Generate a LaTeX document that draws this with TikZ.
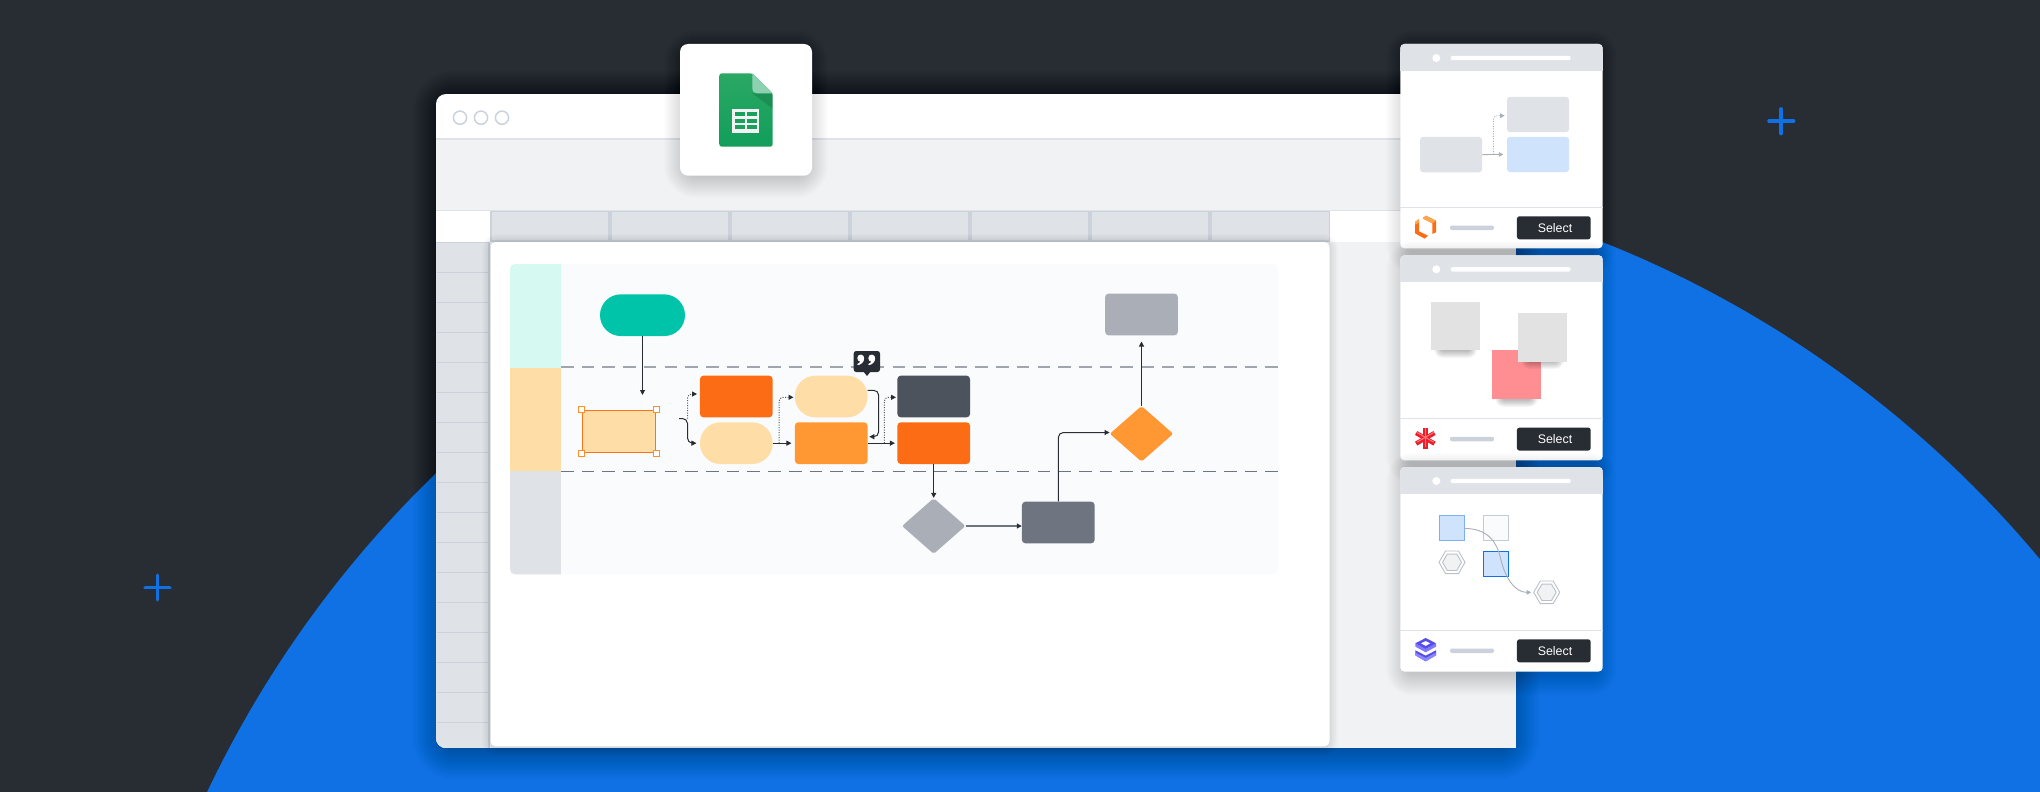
\documentclass[tikz,border=0pt]{standalone}
\usepackage{fontspec}
\setmainfont{Liberation Sans}
\usetikzlibrary{arrows.meta,shapes.geometric}
\definecolor{bgdark}{HTML}{282C33}
\definecolor{bgblue}{HTML}{1071E5}
\definecolor{panelgray}{HTML}{F1F2F4}
\definecolor{cellgray}{HTML}{DFE2E7}
\definecolor{gridline}{HTML}{CBD2DC}
\definecolor{lanebg}{HTML}{FAFBFD}
\definecolor{laneteal}{HTML}{D6F9F2}
\definecolor{peach}{HTML}{FFDDA6}
\definecolor{teal}{HTML}{00C4AA}
\definecolor{deeporange}{HTML}{FC6C14}
\definecolor{midorange}{HTML}{FF9833}
\definecolor{logolight}{HTML}{FFA64D}
\definecolor{slate}{HTML}{4C535D}
\definecolor{steel}{HTML}{6F7580}
\definecolor{ash}{HTML}{A9AEB7}
\definecolor{ink}{HTML}{282C33}
\definecolor{softblue}{HTML}{CFE3FD}
\definecolor{sheettop}{HTML}{2AA864}
\definecolor{sheetbot}{HTML}{129E5B}
\definecolor{sheetfold}{HTML}{8ED1B1}
\definecolor{sheetcell}{HTML}{18A05C}
\definecolor{stickygray}{HTML}{E2E2E2}
\definecolor{stickypink}{HTML}{FF8E93}
\definecolor{starred}{HTML}{EB1E2A}
\definecolor{starlight}{HTML}{FF787D}
\definecolor{violetlight}{HTML}{8078FF}
\definecolor{violetdeep}{HTML}{544CEB}
\definecolor{violetpale}{HTML}{8C87FF}
\newcommand{\softshadow}[7]{% x1 y1 x2 y2 radius steps opacity
  \foreach \i in {1,...,#6}{%
    \pgfmathsetmacro\rr{#5+\i}%
    \fill[black,opacity=#7,rounded corners=\rr pt] ({#1-\i},{#2-\i}) rectangle ({#3+\i},{#4+\i});
  }%
}
\newcommand{\cardframe}[3]{% prefix, top, height
  \softshadow{1408}{#2+8}{1595}{#2+#3+2}{4}{22}{0.008}
  \fill[white,rounded corners=4pt] (1400.3,#2) rectangle (1602.7,{#2+#3});
  \fill[cellgray,rounded corners=4pt] (1400.3,#2) rectangle (1602.7,{#2+15});
  \fill[cellgray] (1400.3,{#2+8}) rectangle (1602.7,{#2+26.7});
  \fill[white] (1436.3,{#2+14}) circle[radius=4pt];
  \fill[white,rounded corners=2pt] (1450.7,{#2+11.8}) rectangle (1570.7,{#2+16.2});
  \draw[cellgray,line width=0.8pt] (1400.3,{#2+163.3}) -- (1602.7,{#2+163.3});
  \fill[gridline,rounded corners=2pt] (1450,{#2+181.5}) rectangle (1494,{#2+186});
  \node[selectbtn] (#1btn) at (1553.8,{#2+183.8}) {\hspace*{2.4pt}Select};
}
\tikzset{
  conn/.style={draw=ink,line width=1pt,-{Triangle[length=5pt,width=5pt]}},
  dotconn/.style={draw=ink!80,line width=1pt,dash pattern=on 1pt off 1.5pt,-{Triangle[length=5pt,width=5pt,color=ink,fill=ink]},rounded corners=4pt},
  flowbox/.style={rectangle,rounded corners=3.5pt,minimum width=72.7pt,minimum height=41.7pt,inner sep=0pt,draw=none},
  flowpill/.style={rectangle,rounded corners=20.5pt,minimum width=72.7pt,minimum height=41.7pt,inner sep=0pt,draw=none},
  flowdiamond/.style={diamond,rounded corners=2pt,minimum width=63.5pt,minimum height=55.8pt,inner sep=0pt,draw=none},
  handle/.style={rectangle,minimum size=5.8pt,inner sep=0pt,fill=white,draw=midorange!80!deeporange,line width=1.1pt},
  selectbtn/.style={rectangle,rounded corners=2.5pt,fill=ink,text=white,minimum width=73.7pt,minimum height=23pt,inner sep=0pt,font=\fontsize{12.4}{14}\selectfont},
  minibox/.style={rectangle,rounded corners=3pt,minimum width=62pt,minimum height=35.3pt,inner sep=0pt,draw=none},
  miniconn/.style={draw=ash,line width=0.9pt,-{Triangle[length=4.5pt,width=4.5pt]}},
  minidot/.style={draw=ash,line width=0.9pt,dash pattern=on 1pt off 1.5pt,rounded corners=4pt,-{Triangle[length=4.5pt,width=4.5pt]}},
  sticky/.style={rectangle,minimum size=48.6pt,inner sep=0pt,draw=none},
  gridsq/.style={rectangle,minimum size=25pt,inner sep=0pt,line width=0.9pt},
  hexouter/.style={regular polygon,regular polygon sides=6,minimum size=26pt,inner sep=0pt,draw=gridline!50!ash,line width=0.9pt,fill=white},
  hexinner/.style={regular polygon,regular polygon sides=6,minimum size=19pt,inner sep=0pt,draw=gridline!50!ash,line width=0.9pt,fill=panelgray},
  plusmark/.style={draw=bgblue,line width=3.8pt,line cap=round},
  lanedash/.style={line width=1.1pt,dash pattern=on 12.6pt off 8.12pt},
}
\begin{document}
\begin{tikzpicture}[x=1pt,y=-1pt]
\useasboundingbox (0,0) rectangle (2040,792);
\fill[bgdark] (0,0) rectangle (2040,792);
\begin{scope}
  \clip (0,0) rectangle (2040,792);
  \fill[bgblue] (1198,1261) circle[radius=1096pt];
\end{scope}
% plus marks
\draw[plusmark] (145.3,587.5) -- (169.7,587.5) (157.5,575.3) -- (157.5,599.7);
\draw[plusmark] (1769.1,121.3) -- (1793.5,121.3) (1781.3,109.1) -- (1781.3,133.5);
% window
\softshadow{446}{104}{1506}{746}{8}{34}{0.0065}
\begin{scope}
  \clip (1516,94) [rounded corners=10pt] -- (436,94) -- (436,748) [sharp corners] -- (1516,748) -- cycle;
  \fill[white] (436,94) rectangle (1516,748);
  \fill[panelgray] (436,139) rectangle (1516,748);
  \draw[cellgray,line width=1.5pt] (436,139) -- (1516,139);
  \fill[white] (436,210) rectangle (1516,241.5);
  \draw[cellgray,line width=1pt] (436,210) -- (1516,210);
  \fill[gridline] (490.2,210.5) rectangle (1330,242);
  \foreach \cx in {492,612,732,852,972,1092}{\fill[cellgray] (\cx,212) rectangle (\cx+116,240);}
  \fill[cellgray] (1212,212) rectangle (1329,240);
  \fill[gridline] (436,241.5) rectangle (490.2,748);
  \fill[cellgray] (436,243) rectangle (488,748);
  \foreach \k in {0,...,15}{\draw[gridline,line width=1.5pt] (437,272.5+30*\k) -- (488,272.5+30*\k);}
\end{scope}
% window controls
\foreach \cx in {460,481,502}{\draw[gridline,line width=1.5pt] (\cx,117.7) circle[radius=6.6pt];}
% canvas
\softshadow{492}{244}{1328}{746}{5}{10}{0.012}
\fill[white,rounded corners=5pt] (490.5,242) rectangle (1329.5,746.3);
% swimlanes
\fill[lanebg,rounded corners=5pt] (510,264) rectangle (1278,574.3);
\begin{scope}
  \clip[rounded corners=5pt] (510,264) rectangle (1278,574.3);
  \fill[laneteal] (510,264) rectangle (561,368);
  \fill[peach] (510,368) rectangle (561,471);
  \fill[cellgray] (510,471) rectangle (561,575);
\end{scope}
\draw[ash!95!black,lanedash] (561,367) -- (1278,367);
\draw[steel,lanedash] (561,471.2) -- (1278,471.2);
% flow nodes
\node[flowpill,fill=teal,minimum width=85pt,rounded corners=20.8pt] (start) at (642.5,315.2) {};
\node[rectangle,minimum width=73.4pt,minimum height=42.4pt,inner sep=0pt,fill=peach,draw=deeporange!85!midorange,line width=1.2pt] (sel) at (619,431.5) {};
\node[handle] (hnw) at (sel.north west) {};
\node[handle] (hne) at (sel.north east) {};
\node[handle] (hsw) at (sel.south west) {};
\node[handle] (hse) at (sel.south east) {};
\node[flowbox,fill=deeporange] (boxa) at (736.3,396.5) {};
\node[flowpill,fill=peach] (pilla) at (736.3,443.15) {};
\node[flowpill,fill=peach] (pillb) at (831.2,396.5) {};
\node[flowbox,fill=midorange] (boxb) at (831.2,443.15) {};
\node[flowbox,fill=slate] (boxc) at (933.7,396.5) {};
\node[flowbox,fill=deeporange] (boxd) at (933.7,443.15) {};
\node[flowdiamond,fill=ash] (dia) at (933.7,526) {};
\node[flowbox,fill=steel] (boxe) at (1058.3,522.5) {};
\node[flowdiamond,fill=midorange] (dib) at (1141.5,433.8) {};
\node[flowbox,fill=ash] (boxf) at (1141.5,314.5) {};
% named free ends
\coordinate (seltip) at (642.5,395);
\coordinate (fork) at (679,418.5);
\coordinate (forkmid) at (687.5,418.5);
\coordinate (uptipa) at (697,394);
\coordinate (uptipb) at (793.5,397.3);
\coordinate (uptipc) at (896,397.3);
\coordinate (dotb) at (779,443.15);
\coordinate (dotc) at (884.3,443.15);
% connectors
\draw[conn] (start.south -| seltip) -- (seltip);
\draw[conn,rounded corners=5pt,shorten >=3.3pt] (fork) -- (forkmid) -- (687.5,443.15) -- (pilla.west);
\draw[dotconn] (forkmid) -- (687.5,394) -- (uptipa);
\draw[conn,shorten >=3.2pt] (pilla.east) -- (boxb.west);
\draw[dotconn] (dotb) -- (779,397.3) -- (uptipb);
\draw[conn,rounded corners=5pt] (867.5,390.3) -- (878.7,390.3) -- (878.7,436.7) -- (869.3,436.7);
\draw[conn,shorten >=2.2pt] (boxb.east) -- (boxd.west);
\draw[dotconn] (dotc) -- (884.3,397.3) -- (uptipc);
\draw[conn] (boxd.south) -- (dia.north);
\draw[draw=steel,line width=1.2pt,-{Triangle[length=5pt,width=5pt,color=ink,fill=ink]}] (dia.east) -- (boxe.west |- dia.east);
\draw[conn,rounded corners=5pt] (boxe.north) -- (1058.3,432.5) -- (dib.west |- 0,432.5);
\draw[conn,shorten >=0.5pt] (dib.north) -- (boxf.south |- 0,341);
% comment bubble
\fill[ink,rounded corners=2.5pt] (853.7,351) rectangle (880,372);
\fill[ink] (863,371) -- (871,371) -- (867,376) -- cycle;
\foreach \qx in {861.5,872.5}{
  \fill[white] (\qx-4.2,358) .. controls (\qx-4.2,355.4) and (\qx-2.2,354.6) .. (\qx-0.4,354.6)
    .. controls (\qx+2.2,354.6) and (\qx+2.6,357) .. (\qx+2.6,358.6)
    .. controls (\qx+2.6,362) and (\qx-0.2,364.6) .. (\qx-3.8,365.2)
    -- (\qx-4.2,364) .. controls (\qx-2.6,363.4) and (\qx-1.6,362.6) .. (\qx-1.3,361.6)
    .. controls (\qx-3,361.6) and (\qx-4.2,360) .. (\qx-4.2,358) -- cycle;
}
% Sheets card
\softshadow{688}{54}{804}{174}{8}{24}{0.008}
\node[rectangle,rounded corners=8pt,minimum width=132pt,minimum height=131.7pt,inner sep=0pt,fill=white] (sheetcard) at (746,109.85) {};
\shade[top color=sheettop,bottom color=sheetbot,rounded corners=2.5pt] (719.3,73.3) -- (752.3,73.3) -- (772.7,93.3) -- (772.7,146.7) -- (719.3,146.7) -- cycle;
\fill[black,opacity=0.13] (752.3,93.3) -- (772.7,93.3) -- (772.7,108.5) -- cycle;
\fill[sheetfold] (752.3,73.3) -- (772.7,93.3) -- (757,93.3) .. controls (754,93.3) and (752.3,91.5) .. (752.3,89) -- cycle;
\fill[panelgray] (732.3,109) rectangle (759.3,133.3);
\foreach \ry in {112,118.5,125}{
  \fill[sheetcell] (735,\ry) rectangle (744.5,\ry+4.3);
  \fill[sheetcell] (747.2,\ry) rectangle (756.6,\ry+4.3);
}
% Card 1
\cardframe{ca}{44}{204.3}
\node[minibox,fill=cellgray] (caleft) at (1451.1,154.6) {};
\node[minibox,fill=cellgray] (catop) at (1538,114.5) {};
\node[minibox,fill=softblue] (cablue) at (1538,154.4) {};
\draw[miniconn,shorten >=3.5pt] (caleft.east) -- (cablue.west);
\coordinate (cadot) at (1493.3,154.4);
\coordinate (catip) at (1504.7,115.7);
\draw[minidot] (cadot) -- (1493.3,115.7) -- (catip);
\begin{scope}[shift={(1390,30)},x=0.3333pt,y=-0.3333pt]
  \fill[deeporange] (98,565) -- (108,557) -- (138,572) -- (138,607) -- (127,612) -- (127,580) -- cycle;
  \fill[logolight] (98,565) -- (108,557) -- (138,572) -- (127,580) -- cycle;
  \fill[deeporange] (75,576) -- (87,568) -- (87,604) -- (114,617) -- (104,626) -- (75,610) -- cycle;
  \fill[logolight] (75,576) -- (87,568) -- (87,578) -- (75,584) -- cycle;
\end{scope}
% Card 2
\cardframe{cb}{255.3}{205}
\softshadow{1443}{345}{1468}{349}{0}{9}{0.035}
\node[sticky,fill=stickygray] (stickya) at (1455.3,325.9) {};
\softshadow{1504}{394}{1529}{398}{0}{9}{0.035}
\node[sticky,fill=stickypink] (stickyb) at (1516.5,374.7) {};
\softshadow{1530}{356}{1555}{360}{0}{9}{0.035}
\node[sticky,fill=stickygray] (stickyc) at (1542.7,337.2) {};
\begin{scope}[shift={(1425.3,438.3)}]
  \foreach \ang in {90,30,-30}{
    \draw[starred,line width=4.4pt] (\ang:10.6pt) -- (\ang+180:10.6pt);
  }
  \foreach \ang in {90,30,-30}{
    \draw[starlight,line width=1pt] ([yshift=1pt]\ang:9.5pt) -- ([yshift=1pt]\ang+180:9.5pt);
  }
\end{scope}
% Card 3
\cardframe{cc}{467}{204.5}
\node[gridsq,fill=softblue,draw=bgblue!55!white] (cca) at (1452,528.4) {};
\node[gridsq,fill=lanebg,draw=gridline!80!ash] (ccb) at (1495.5,528.4) {};
\node[gridsq,fill=softblue,draw=bgblue] (ccc) at (1495.5,563.5) {};
\node[hexouter] (hexa) at (1452,562.3) {};
\node[hexinner] (hexai) at (1452,562.3) {};
\node[hexouter] (hexb) at (1546.7,592.3) {};
\node[hexinner] (hexbi) at (1546.7,592.3) {};
\draw[miniconn,shorten >=2pt] (cca.east) .. controls (1487,529) and (1496,540) .. (1500.5,558) .. controls (1505,578) and (1515,592.5) .. (hexb.west);
\begin{scope}[shift={(1390,460)},x=0.3333pt,y=-0.3333pt]
  \fill[violetlight] (76,550) -- (107,567) -- (138,550) -- (138,560) -- (107,577) -- (76,560) -- cycle;
  \fill[violetdeep,even odd rule] (107,534) -- (138,550) -- (107,567) -- (76,550) -- cycle (107,543) -- (122,550) -- (107,558) -- (92,550) -- cycle;
  \fill[violetdeep] (76,571) -- (107,587) -- (138,571) -- (138,586) -- (107,604) -- (76,586) -- cycle;
  \fill[violetpale] (76,578) -- (107,594) -- (138,578) -- (138,586) -- (107,604) -- (76,586) -- cycle;
\end{scope}
\end{tikzpicture}
\end{document}
